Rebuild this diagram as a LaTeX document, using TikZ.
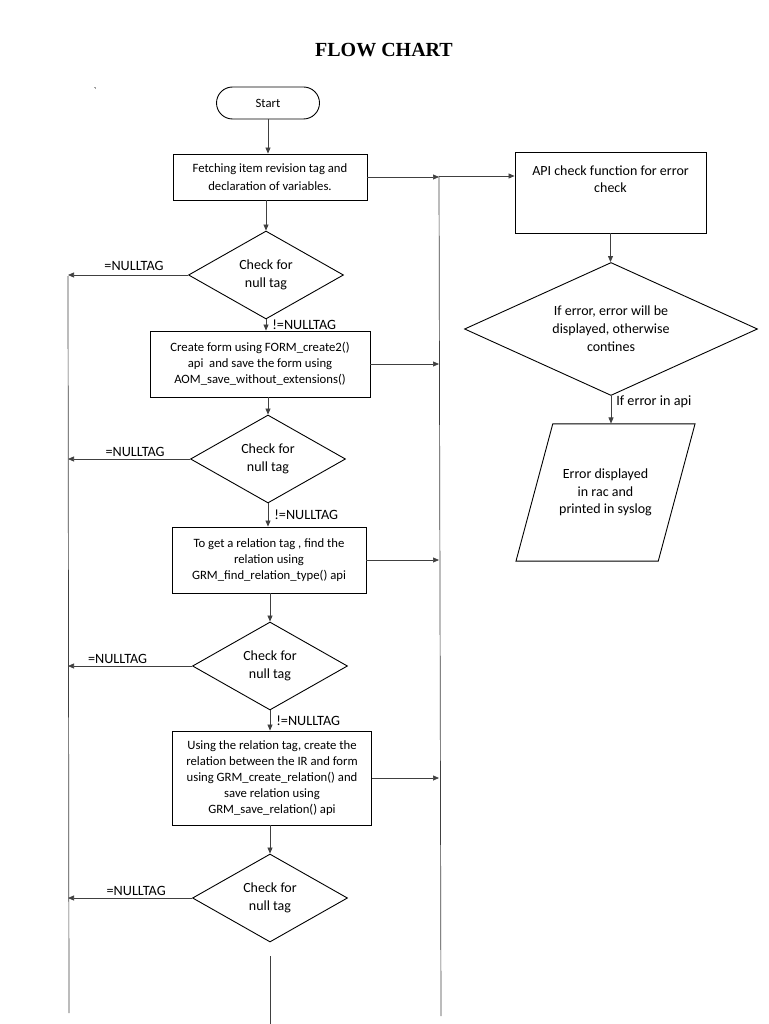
\documentclass[tikz,border=0pt]{standalone}
\usepackage{fontspec}
\setmainfont{Carlito}
\newfontfamily\titlefont{Liberation Serif}
\usepackage{tikz}
\usetikzlibrary{shapes.geometric,arrows.meta}

\begin{document}
\begin{tikzpicture}[
  x=1pt, y=-1pt,
  every node/.style={font=\fontsize{12.7}{16}\selectfont},
  term/.style={rectangle, draw, rounded corners=16pt, minimum width=103pt, minimum height=32pt, line width=0.9pt},
  proc/.style={rectangle, draw, align=center, line width=0.9pt},
  dec/.style={diamond, draw, aspect=1.8, inner sep=0pt, align=center, minimum width=155pt, minimum height=88pt, line width=0.9pt, font=\fontsize{14}{18}\selectfont},
  big/.style={font=\fontsize{14}{17.5}\selectfont},
  io/.style={trapezium, trapezium left angle=75, trapezium right angle=105, trapezium stretches body, draw, align=center, line width=0.9pt, inner ysep=45pt, minimum width=179pt},
  lbl/.style={font=\fontsize{14.2}{17}\selectfont, inner sep=2pt, text=black},
  line/.style={line width=0.7pt, black!75},
  arr/.style={line, -{Triangle[length=6pt,width=5pt]}}
]
\useasboundingbox (0,0) rectangle (768,1024);

% Title
\node[font=\titlefont\bfseries\fontsize{20}{24}\selectfont] (title) at (384,50) {FLOW CHART};
\node[font=\fontsize{10}{12}\selectfont] (tick) at (95,91) {\textasciigrave};

% Main column
\node[term] (start) at (268,103) {Start};
\node[proc, minimum width=194, minimum height=46] (fetch) at (270,177) {Fetching item revision tag and\\[2pt]declaration of variables.};
\node[dec] (chk1) at (266,275) {Check for\\null tag};
\node[proc, minimum width=220, minimum height=66] (form) at (260,364) {Create form using FORM\_create2()\\api\ \ and save the form using\\AOM\_save\_without\_extensions()};
\node[dec] (chk2) at (268,459) {Check for\\null tag};
\node[proc, minimum width=194, minimum height=66] (rel) at (269,560) {To get a relation tag , find the\\relation using\\GRM\_find\_relation\_type() api};
\node[dec] (chk3) at (270,666) {Check for\\null tag};
\node[proc, minimum width=199, minimum height=94] (crel) at (272,778) {Using the relation tag, create the\\relation between the IR and form\\using GRM\_create\_relation() and\\save relation using\\GRM\_save\_relation() api};
\node[dec] (chk4) at (270,898) {Check for\\null tag};
\coordinate (tail) at (271,1024);

% Error check column
\node[proc, big, minimum width=191, minimum height=81] (api) at (610.5,192.5) {API check function for error\\check\\[9pt]~};
\node[dec, aspect=2.2, minimum width=293, minimum height=133] (errchk) at (611,329) {If error, error will be\\displayed, otherwise\\contines};
\node[io, big] (errout) at (605.5,492.5) {Error displayed\\in rac and\\printed in syslog};

% Side buses
\coordinate (lbtop) at (68,276);
\coordinate (lbbot) at (69,1013);
\coordinate (rbtop) at (439,176);
\coordinate (rbbot) at (441,1016);
\draw[line] (lbtop) -- (lbbot);
\draw[line] (rbtop) -- (rbbot);

% Main flow
\draw[arr] (start.south) -- (start.south |- fetch.north);
\draw[arr] (chk1.north |- fetch.south) -- (chk1.north);
\draw[arr] (chk1.south) -- node[lbl, right, xshift=4pt] {!=NULLTAG} (chk1.south |- form.north);
\draw[arr] (chk2.north |- form.south) -- (chk2.north);
\draw[arr] (chk2.south) -- node[lbl, right, xshift=4pt] {!=NULLTAG} (chk2.south |- rel.north);
\draw[arr] (chk3.north |- rel.south) -- (chk3.north);
\draw[arr] (chk3.south) -- node[lbl, right, xshift=4pt] {!=NULLTAG} (chk3.south |- crel.north);
\draw[arr] (chk4.north |- crel.south) -- (chk4.north);
\draw[line] ([yshift=-14pt]chk4.south) -- (chk4.south |- tail);

% NULLTAG exits
\draw[arr] (chk1.west) -- node[lbl, above, pos=0.45, yshift=2pt] {=NULLTAG} (chk1.west -| lbtop);
\draw[arr] (chk2.west) -- node[lbl, above, pos=0.45] {=NULLTAG} (chk2.west -| lbtop);
\draw[arr] (chk3.west) -- node[lbl, above, pos=0.6] {=NULLTAG} (chk3.west -| lbtop);
\draw[arr] (chk4.west) -- node[lbl, above, pos=0.45] {=NULLTAG} (chk4.west -| lbtop);

% API calls
\draw[arr] (fetch.east) -- (fetch.east -| rbtop);
\draw[arr] (form.east) -- (form.east -| rbtop);
\draw[arr] (rel.east) -- (rel.east -| rbtop);
\draw[arr] (crel.east) -- (crel.east -| rbtop);
\draw[arr] (rbtop) -- (rbtop -| api.west);
\draw[arr] (api.south) -- (api.south |- errchk.north);
\draw[arr] (errchk.south) -- node[lbl, right, pos=0.2, xshift=3pt] {If error in api} (errchk.south |- errout.north);

\end{tikzpicture}
\end{document}
